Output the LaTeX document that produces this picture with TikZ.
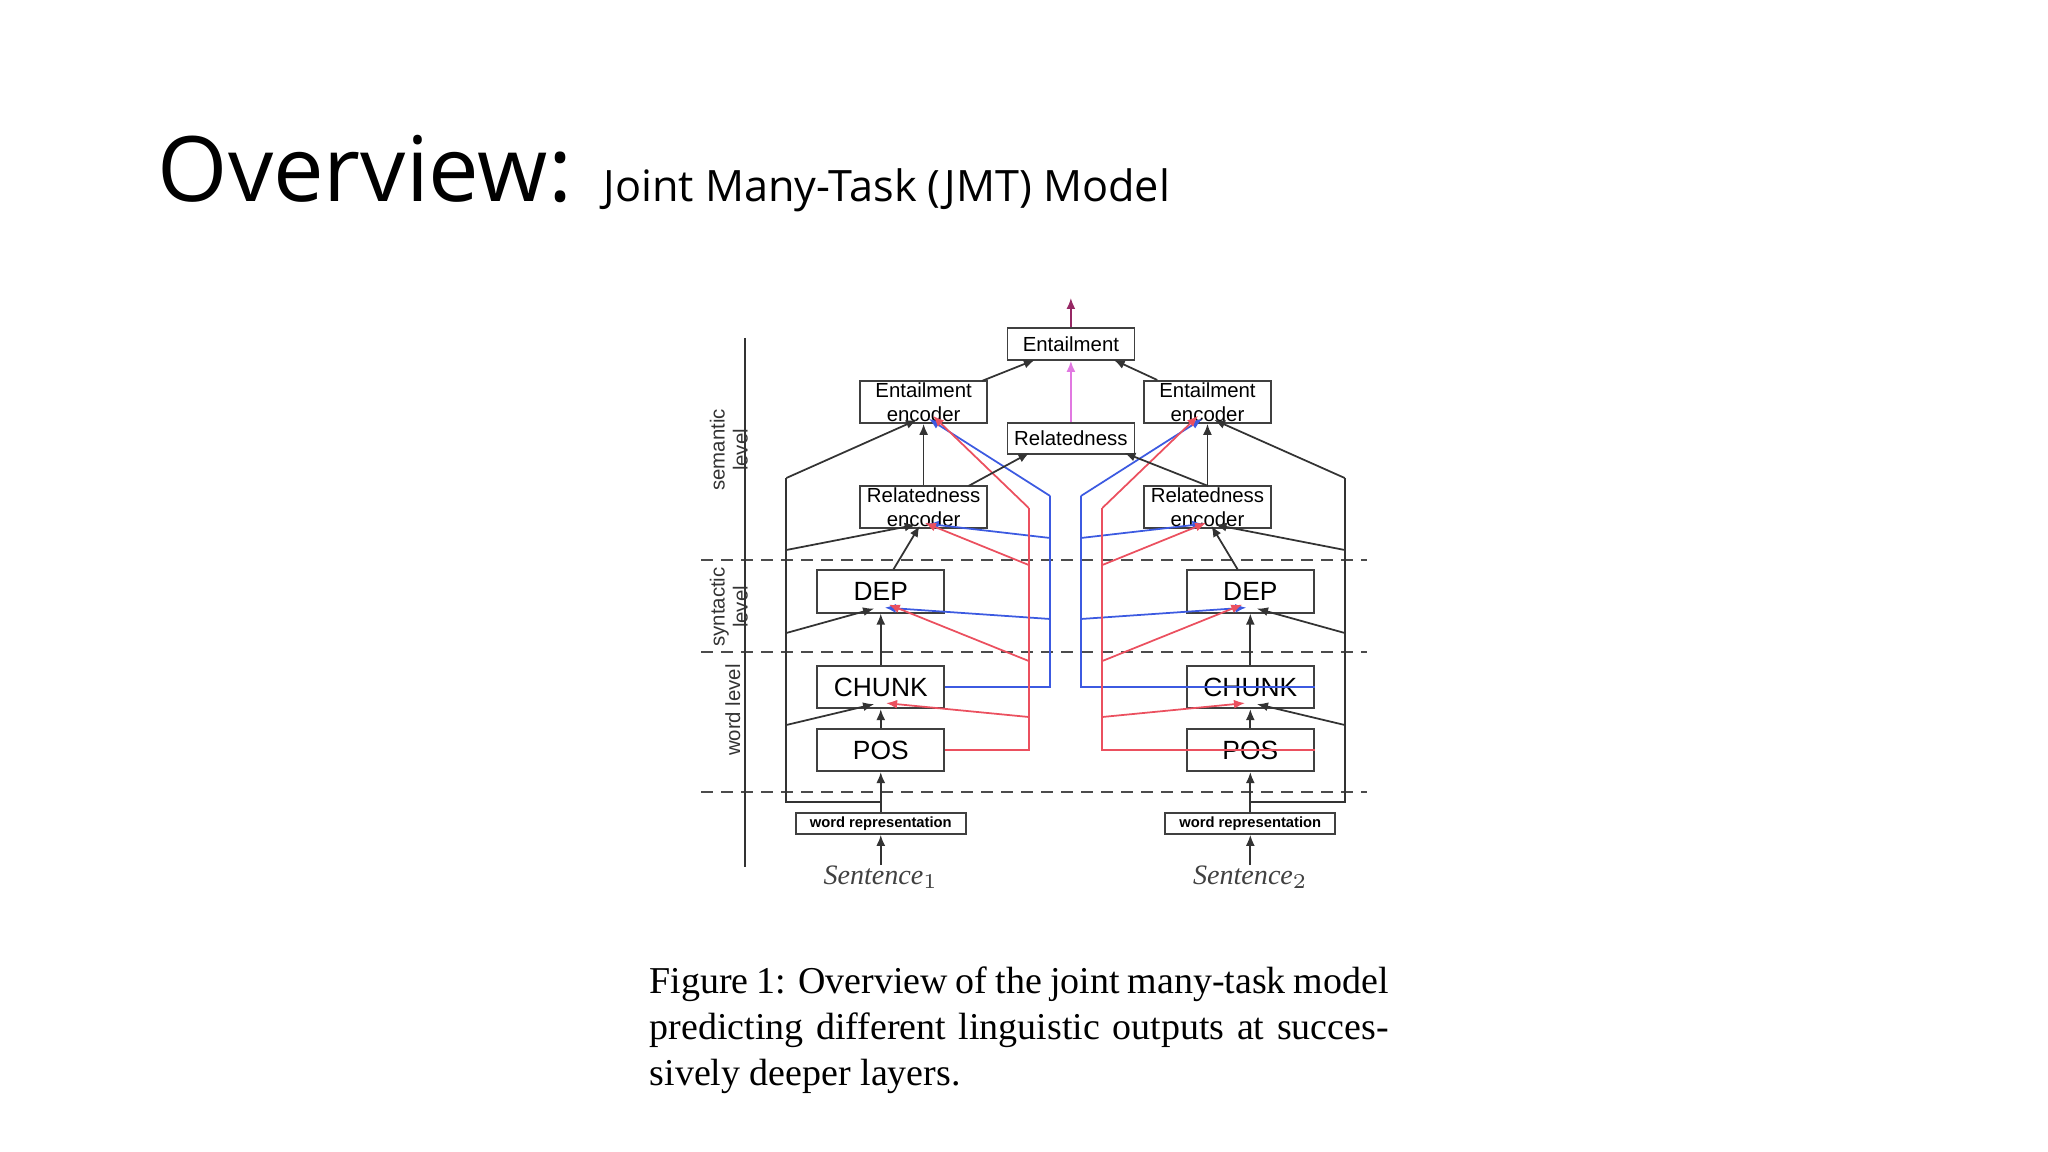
\documentclass[tikz,border=0pt]{standalone}
\usepackage{fontspec}
\setmainfont{Liberation Serif}
\setsansfont{Liberation Sans}
\newfontfamily\titlefont{Open Sans}
\usetikzlibrary{arrows.meta,calc}
\definecolor{bl}{RGB}{60,90,225}
\definecolor{rd}{RGB}{235,80,95}
\definecolor{pk}{RGB}{225,120,225}
\definecolor{mr}{RGB}{150,40,100}
\tikzset{
 box/.style={draw=black!75,line width=0.5pt,inner sep=0pt,minimum width=12.7mm,font=\sffamily\fontsize{5.8}{6.8}\selectfont,align=center},
 bigbox/.style={box,minimum height=4.25mm,font=\sffamily\fontsize{7.5}{9}\selectfont},
 wrbox/.style={box,minimum width=17mm,minimum height=2.1mm,font=\sffamily\bfseries\fontsize{4.2}{5}\selectfont},
 ln/.style={line width=0.5pt,black!80},
 ar/.style={ln,-{Latex[length=1.1mm,width=0.9mm]}},
 bar/.style={ar,bl},
 rar/.style={ar,rd},
 dsh/.style={line width=0.5pt,black!70,dash pattern=on 1.2mm off 0.8mm},
 lvl/.style={rotate=90,font=\sffamily\fontsize{5.8}{6.5}\selectfont,align=center,text=black!80}
}
\begin{document}
\begin{tikzpicture}[x=0.1mm,y=-0.1mm]
\useasboundingbox (0,0) rectangle (2048,1152);
\node[anchor=base west,inner sep=0,font=\titlefont\fontsize{25.7}{27}\selectfont] (ttl) at (157,202) {Overview:};
\node[anchor=base west,inner sep=0,font=\titlefont\fontsize{12.3}{14}\selectfont] (sub) at (603,202) {Joint Many-Task (JMT) Model};
\coordinate (d1a) at (701,560); \coordinate (d1b) at (1367,560);
\coordinate (d2a) at (701,652); \coordinate (d2b) at (1367,652);
\coordinate (d3a) at (701,792); \coordinate (d3b) at (1367,792);
\draw[dsh] (d1a) -- (d1b); \draw[dsh] (d2a) -- (d2b); \draw[dsh] (d3a) -- (d3b);
\begin{scope}[x=0.1339mm,xshift=-23.39mm]
\node[box,minimum height=3.2mm] (ent) at (974.5,344) {Entailment};
\node[box,minimum height=3.1mm] (rel) at (974.5,438.5) {Relatedness};
\coordinate (topc) at (974.5,298);
\draw[ar,mr] (ent.north) -- (topc);
\draw[ar,pk] (rel.north) -- (ent.south);
\coordinate (axt) at (731,338); \coordinate (axb) at (731,867);
\draw[ln] (axt) -- (axb);
\node[lvl] (lsem) at (719,450) {semantic\\level};
\node[lvl] (lsyn) at (719,607) {syntactic\\level};
\node[lvl] (lwrd) at (722,710) {word level};
\foreach \s/\n in {1/1,-1/2}{
 \pgfmathsetmacro\cb{970.5-138*\s}
 \pgfmathsetmacro\ce{970.5-106*\s}
 \pgfmathsetmacro\xo{970.5-208.5*\s}
 \pgfmathsetmacro\xb{970.5-11.5*\s}
 \pgfmathsetmacro\xr{970.5-27.5*\s}
 \node[box,minimum height=4.2mm] (ee\n) at (\ce,402) {Entailment\\encoder};
 \node[box,minimum height=4.2mm] (re\n) at (\ce,507) {Relatedness\\encoder};
 \node[bigbox] (dep\n) at (\cb,591.5) {DEP};
 \node[bigbox] (chk\n) at (\cb,687) {CHUNK};
 \node[bigbox] (pos\n) at (\cb,750) {POS};
 \node[wrbox] (wr\n) at (\cb,823.5) {word representation};
 \node[font=\fontsize{8}{9}\selectfont,inner sep=0,text=black!75] (sen\n) at (\cb,877) {$\mathit{Sentence}_{\n}$};
 \draw[ar] (sen\n.north) -- (wr\n.south);
 \draw[ar] (wr\n.north) -- (pos\n.south);
 \draw[ar] (pos\n.north) -- (chk\n.south);
 \draw[ar] (chk\n.north) -- (dep\n.south);
 \draw[ar] ($(dep\n.north)+(9.5*\s,0)$) -- ($(re\n.south)+(-3*\s,-3)$);
 \draw[ar] (re\n.north) -- (ee\n.south);
 \draw[ln] (\cb,802) -- (\xo,802) -- (\xo,478);
 \draw[ar] (\xo,478) -- ($(ee\n.south)+(-5*\s,-4)$);
 \draw[ar] (\xo,550) -- ($(re\n.south)+(-6*\s,-4)$);
 \draw[ar] (\xo,633) -- ($(dep\n.south)+(-5*\s,-5)$);
 \draw[ar] (\xo,725) -- ($(chk\n.south)+(-5*\s,-5)$);
 \draw[ln,bl] (chk\n.east) -- (\xb,687) -- (\xb,496);
 \draw[bar] (\xb,496) -- ($(ee\n.south)+(4*\s,-5)$);
 \draw[bar] (\xb,538) -- ($(re\n.south)+(3*\s,-5)$);
 \draw[bar] (\xb,619) -- ($(dep\n.south)+(3*\s,-6)$);
 \draw[ln,rd] (pos\n.east) -- (\xr,750) -- (\xr,508);
 \draw[rar] (\xr,508) -- ($(ee\n.south)+(7*\s,-8)$);
 \draw[rar] (\xr,565) -- ($(re\n.south)+(1*\s,-6)$);
 \draw[rar] (\xr,661) -- ($(dep\n.south)+(6*\s,-9)$);
 \draw[rar] (\xr,717) -- ($(chk\n.south)+(4*\s,-6)$);
}
\coordinate (rl1) at (898,486); \coordinate (rl2) at (1077,486);
\draw[ar] (rl1) -- ($(rel.south)+(-31,-2)$);
\draw[ar] (rl2) -- ($(rel.south)+(40,-2)$);
\coordinate (el1) at (908,381); \coordinate (el2) at (1039,380);
\draw[ar] (el1) -- ($(ent.south)+(-27,-1)$);
\draw[ar] (el2) -- ($(ent.south)+(32,-1)$);
\end{scope}
\node[anchor=north west,inner sep=0,align=left,font=\fontsize{10.8}{13.1}\selectfont] (cap) at (649,966)
 {\makebox[73.9mm][s]{Figure 1: Overview of the joint many-task model}\\
  \makebox[73.9mm][s]{predicting different linguistic outputs at succes-}\\
  sively deeper layers.};
\end{tikzpicture}
\end{document}
